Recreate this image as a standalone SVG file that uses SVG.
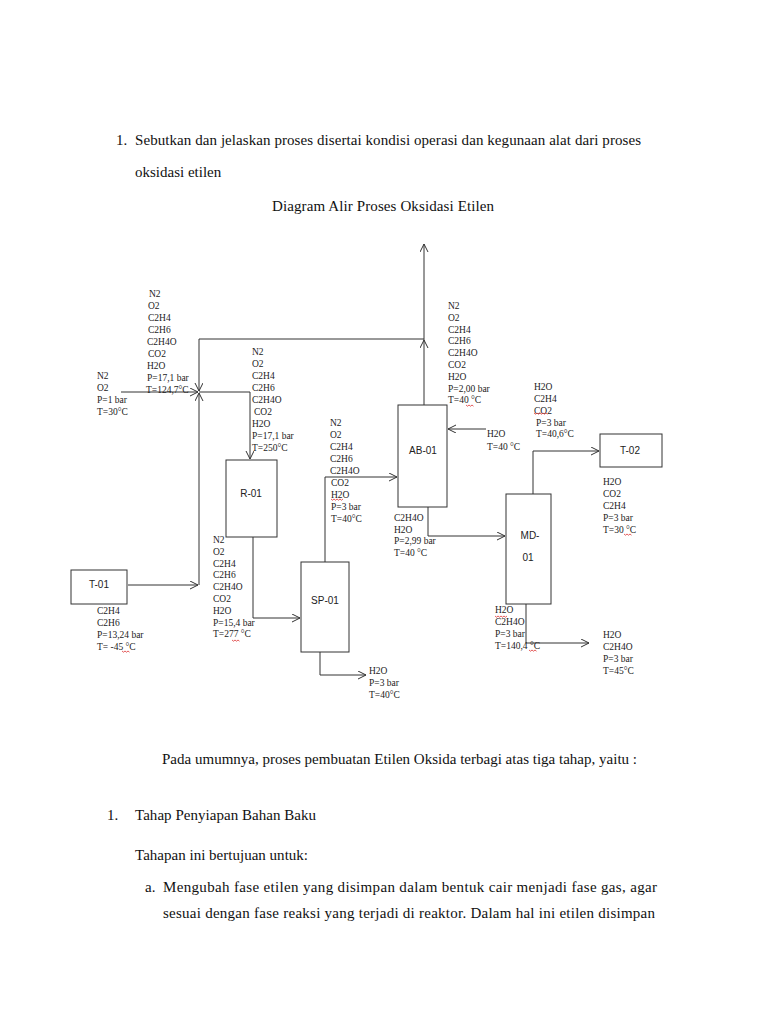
<svg xmlns="http://www.w3.org/2000/svg" width="768" height="1024" viewBox="0 0 768 1024">
<style>
.body{font-family:"Liberation Serif","Times New Roman",serif;font-size:15px;fill:#111}
.s{font-family:"Liberation Serif","Times New Roman",serif;font-size:9.5px;fill:#222}
.lbl{font-family:"Liberation Sans",Arial,sans-serif;font-size:10px;fill:#222;text-anchor:middle}
.box{fill:#fff;stroke:#333;stroke-width:1}
.ln{fill:none;stroke:#333;stroke-width:1}
.sq{fill:none;stroke:#d33;stroke-width:0.8}
</style>
<defs>
<marker id="arr" markerWidth="10" markerHeight="10" refX="8" refY="4" orient="auto" markerUnits="userSpaceOnUse">
<path d="M0,0 L8,4 L0,8" fill="none" stroke="#333" stroke-width="1"/>
</marker>
</defs>
<rect width="768" height="1024" fill="#fff"/>

<g id="page-text">
<text class="body" x="116" y="145">1.</text>
<text class="body" x="135" y="145" textLength="506">Sebutkan dan jelaskan proses disertai kondisi operasi dan kegunaan alat  dari proses</text>
<text class="body" x="135" y="177">oksidasi etilen</text>
<text class="body" x="272" y="211" textLength="222">Diagram Alir Proses Oksidasi Etilen</text>
<text class="body" x="162" y="764" textLength="475">Pada umumnya, proses pembuatan Etilen Oksida terbagi atas tiga tahap, yaitu :</text>
<text class="body" x="107" y="820">1.</text>
<text class="body" x="135" y="820" textLength="181">Tahap Penyiapan Bahan Baku</text>
<text class="body" x="135" y="860" textLength="173">Tahapan ini bertujuan untuk:</text>
<text class="body" x="145" y="892">a.</text>
<text class="body" x="163" y="892" textLength="494">Mengubah fase etilen yang disimpan dalam bentuk cair menjadi fase gas, agar</text>
<text class="body" x="163" y="918" textLength="492">sesuai dengan fase reaksi yang terjadi di reaktor. Dalam hal ini etilen disimpan</text>
</g>

<g id="connectors">
<path class="ln" d="M424,405 V340" marker-end="url(#arr)"/>
<path class="ln" d="M424,340 V244" marker-end="url(#arr)"/>
<path class="ln" d="M424,339 H199 V391" marker-end="url(#arr)"/>
<path class="ln" d="M121,392 H198" marker-end="url(#arr)"/>
<path class="ln" d="M199,585 V393" marker-end="url(#arr)"/>
<path class="ln" d="M128,585 H198" marker-end="url(#arr)"/>
<path class="ln" d="M199,392 H250 V459" marker-end="url(#arr)"/>
<path class="ln" d="M253,537 V618 H300" marker-end="url(#arr)"/>
<path class="ln" d="M320,652 V675 H366" marker-end="url(#arr)"/>
<path class="ln" d="M325,562 V477 H397" marker-end="url(#arr)"/>
<path class="ln" d="M486,429 H448" marker-end="url(#arr)"/>
<path class="ln" d="M428,507 V536 H505" marker-end="url(#arr)"/>
<path class="ln" d="M533,494 V451 H599" marker-end="url(#arr)"/>
<path class="ln" d="M526,604 V643 H589" marker-end="url(#arr)"/>
</g>

<g id="T-01"><rect class="box" x="71" y="570" width="56" height="34"/><text class="lbl" x="99" y="588">T-01</text></g>
<g id="R-01"><rect class="box" x="226" y="460" width="51" height="77"/><text class="lbl" x="251" y="497">R-01</text></g>
<g id="SP-01"><rect class="box" x="301" y="562" width="48" height="90"/><text class="lbl" x="325" y="604">SP-01</text></g>
<g id="AB-01"><rect class="box" x="398" y="405" width="49" height="102"/><text class="lbl" x="423" y="454">AB-01</text></g>
<g id="MD-01"><rect class="box" x="506" y="494" width="45" height="110"/><text class="lbl" x="530" y="539">MD-</text><text class="lbl" x="528" y="561">01</text></g>
<g id="T-02"><rect class="box" x="600" y="434" width="62" height="33"/><text class="lbl" x="630" y="454">T-02</text></g>

<g id="stream-labels">
<text class="s"><tspan x="149" y="297">N2</tspan><tspan x="148" dy="12">O2</tspan><tspan x="148" dy="12">C2H4</tspan><tspan x="148" dy="12">C2H6</tspan><tspan x="147" dy="12">C2H4O</tspan><tspan x="148" dy="12">CO2</tspan><tspan x="147" dy="12">H2O</tspan><tspan x="147" dy="12">P=17,1 bar</tspan><tspan x="146" dy="12">T=124,7°C</tspan></text>
<text class="s"><tspan x="97" y="379">N2</tspan><tspan x="97" dy="12">O2</tspan><tspan x="97" dy="12">P=1 bar</tspan><tspan x="97" dy="11.5">T=30°C</tspan></text>
<text class="s"><tspan x="252" y="355">N2</tspan><tspan x="252" dy="12">O2</tspan><tspan x="252" dy="12">C2H4</tspan><tspan x="252" dy="12">C2H6</tspan><tspan x="252" dy="12">C2H4O</tspan><tspan x="254" dy="12">CO2</tspan><tspan x="252" dy="12">H2O</tspan><tspan x="252" dy="12">P=17,1 bar</tspan><tspan x="252" dy="12">T=250°C</tspan></text>
<text class="s"><tspan x="330" y="426">N2</tspan><tspan x="330" dy="12">O2</tspan><tspan x="330" dy="12">C2H4</tspan><tspan x="330" dy="12">C2H6</tspan><tspan x="330" dy="12">C2H4O</tspan><tspan x="331" dy="12">CO2</tspan><tspan x="331" dy="12">H2O</tspan><tspan x="331" dy="12">P=3 bar</tspan><tspan x="331" dy="12">T=40°C</tspan></text>
<text class="s"><tspan x="448" y="309">N2</tspan><tspan x="448" dy="11.8">O2</tspan><tspan x="448" dy="11.8">C2H4</tspan><tspan x="448" dy="11.8">C2H6</tspan><tspan x="448" dy="11.8">C2H4O</tspan><tspan x="448" dy="11.8">CO2</tspan><tspan x="448" dy="11.8">H2O</tspan><tspan x="448" dy="11.8">P=2,00 bar</tspan><tspan x="448" dy="11.8">T=40 °C</tspan></text>
<text class="s"><tspan x="487" y="437">H2O</tspan><tspan x="487" dy="12.5">T=40 °C</tspan></text>
<text class="s"><tspan x="534" y="390">H2O</tspan><tspan x="534" dy="12">C2H4</tspan><tspan x="534" dy="12">CO2</tspan><tspan x="536" dy="11.5">P=3 bar</tspan><tspan x="536" dy="11.5">T=40,6°C</tspan></text>
<text class="s"><tspan x="603" y="485">H2O</tspan><tspan x="603" dy="12">CO2</tspan><tspan x="603" dy="12">C2H4</tspan><tspan x="603" dy="12">P=3 bar</tspan><tspan x="603" dy="12">T=30 °C</tspan></text>
<text class="s"><tspan x="394" y="521">C2H4O</tspan><tspan x="394" dy="11.5">H2O</tspan><tspan x="394" dy="11.5">P=2,99 bar</tspan><tspan x="394" dy="11.5">T=40 °C</tspan></text>
<text class="s"><tspan x="495" y="613">H2O</tspan><tspan x="495" dy="12">C2H4O</tspan><tspan x="495" dy="12">P=3 bar</tspan><tspan x="495" dy="12">T=140,4 °C</tspan></text>
<text class="s"><tspan x="603" y="638">H2O</tspan><tspan x="603" dy="12">C2H4O</tspan><tspan x="603" dy="12">P=3 bar</tspan><tspan x="603" dy="12">T=45°C</tspan></text>
<text class="s"><tspan x="97" y="614">C2H4</tspan><tspan x="97" dy="12">C2H6</tspan><tspan x="97" dy="12">P=13,24 bar</tspan><tspan x="97" dy="12">T= -45 °C</tspan></text>
<text class="s"><tspan x="213" y="543">N2</tspan><tspan x="213" dy="11.8">O2</tspan><tspan x="213" dy="11.8">C2H4</tspan><tspan x="213" dy="11.8">C2H6</tspan><tspan x="213" dy="11.8">C2H4O</tspan><tspan x="213" dy="11.8">CO2</tspan><tspan x="213" dy="11.8">H2O</tspan><tspan x="213" dy="11.8">P=15,4 bar</tspan><tspan x="213" dy="11.8">T=277 °C</tspan></text>
<text class="s"><tspan x="369" y="674">H2O</tspan><tspan x="369" dy="12">P=3 bar</tspan><tspan x="369" dy="11.5">T=40°C</tspan></text>
</g>

<g id="spell-marks">
<path class="sq" d="M331,499 l1.5,1.2 l1.5,-1.2 l1.5,1.2 l1.5,-1.2 l1.5,1.2 l1.5,-1.2 l1.5,1.2 l1.5,-1.2"/>
<path class="sq" d="M466,405 l1.5,1.2 l1.5,-1.2 l1.5,1.2 l1.5,-1.2 l1.5,1.2"/>
<path class="sq" d="M534,413 l1.5,1.2 l1.5,-1.2 l1.5,1.2 l1.5,-1.2 l1.5,1.2 l1.5,-1.2 l1.5,1.2 l1.5,-1.2 l1.5,1.2"/>
<path class="sq" d="M624,534 l1.5,1.2 l1.5,-1.2 l1.5,1.2 l1.5,-1.2 l1.5,1.2"/>
<path class="sq" d="M495,616 l1.5,1.2 l1.5,-1.2 l1.5,1.2 l1.5,-1.2 l1.5,1.2 l1.5,-1.2 l1.5,1.2 l1.5,-1.2"/>
<path class="sq" d="M529,650 l1.5,1.2 l1.5,-1.2 l1.5,1.2 l1.5,-1.2 l1.5,1.2"/>
<path class="sq" d="M122,651 l1.5,1.2 l1.5,-1.2 l1.5,1.2 l1.5,-1.2 l1.5,1.2"/>
<path class="sq" d="M232,640 l1.5,1.2 l1.5,-1.2 l1.5,1.2 l1.5,-1.2 l1.5,1.2"/>
</g>
</svg>
